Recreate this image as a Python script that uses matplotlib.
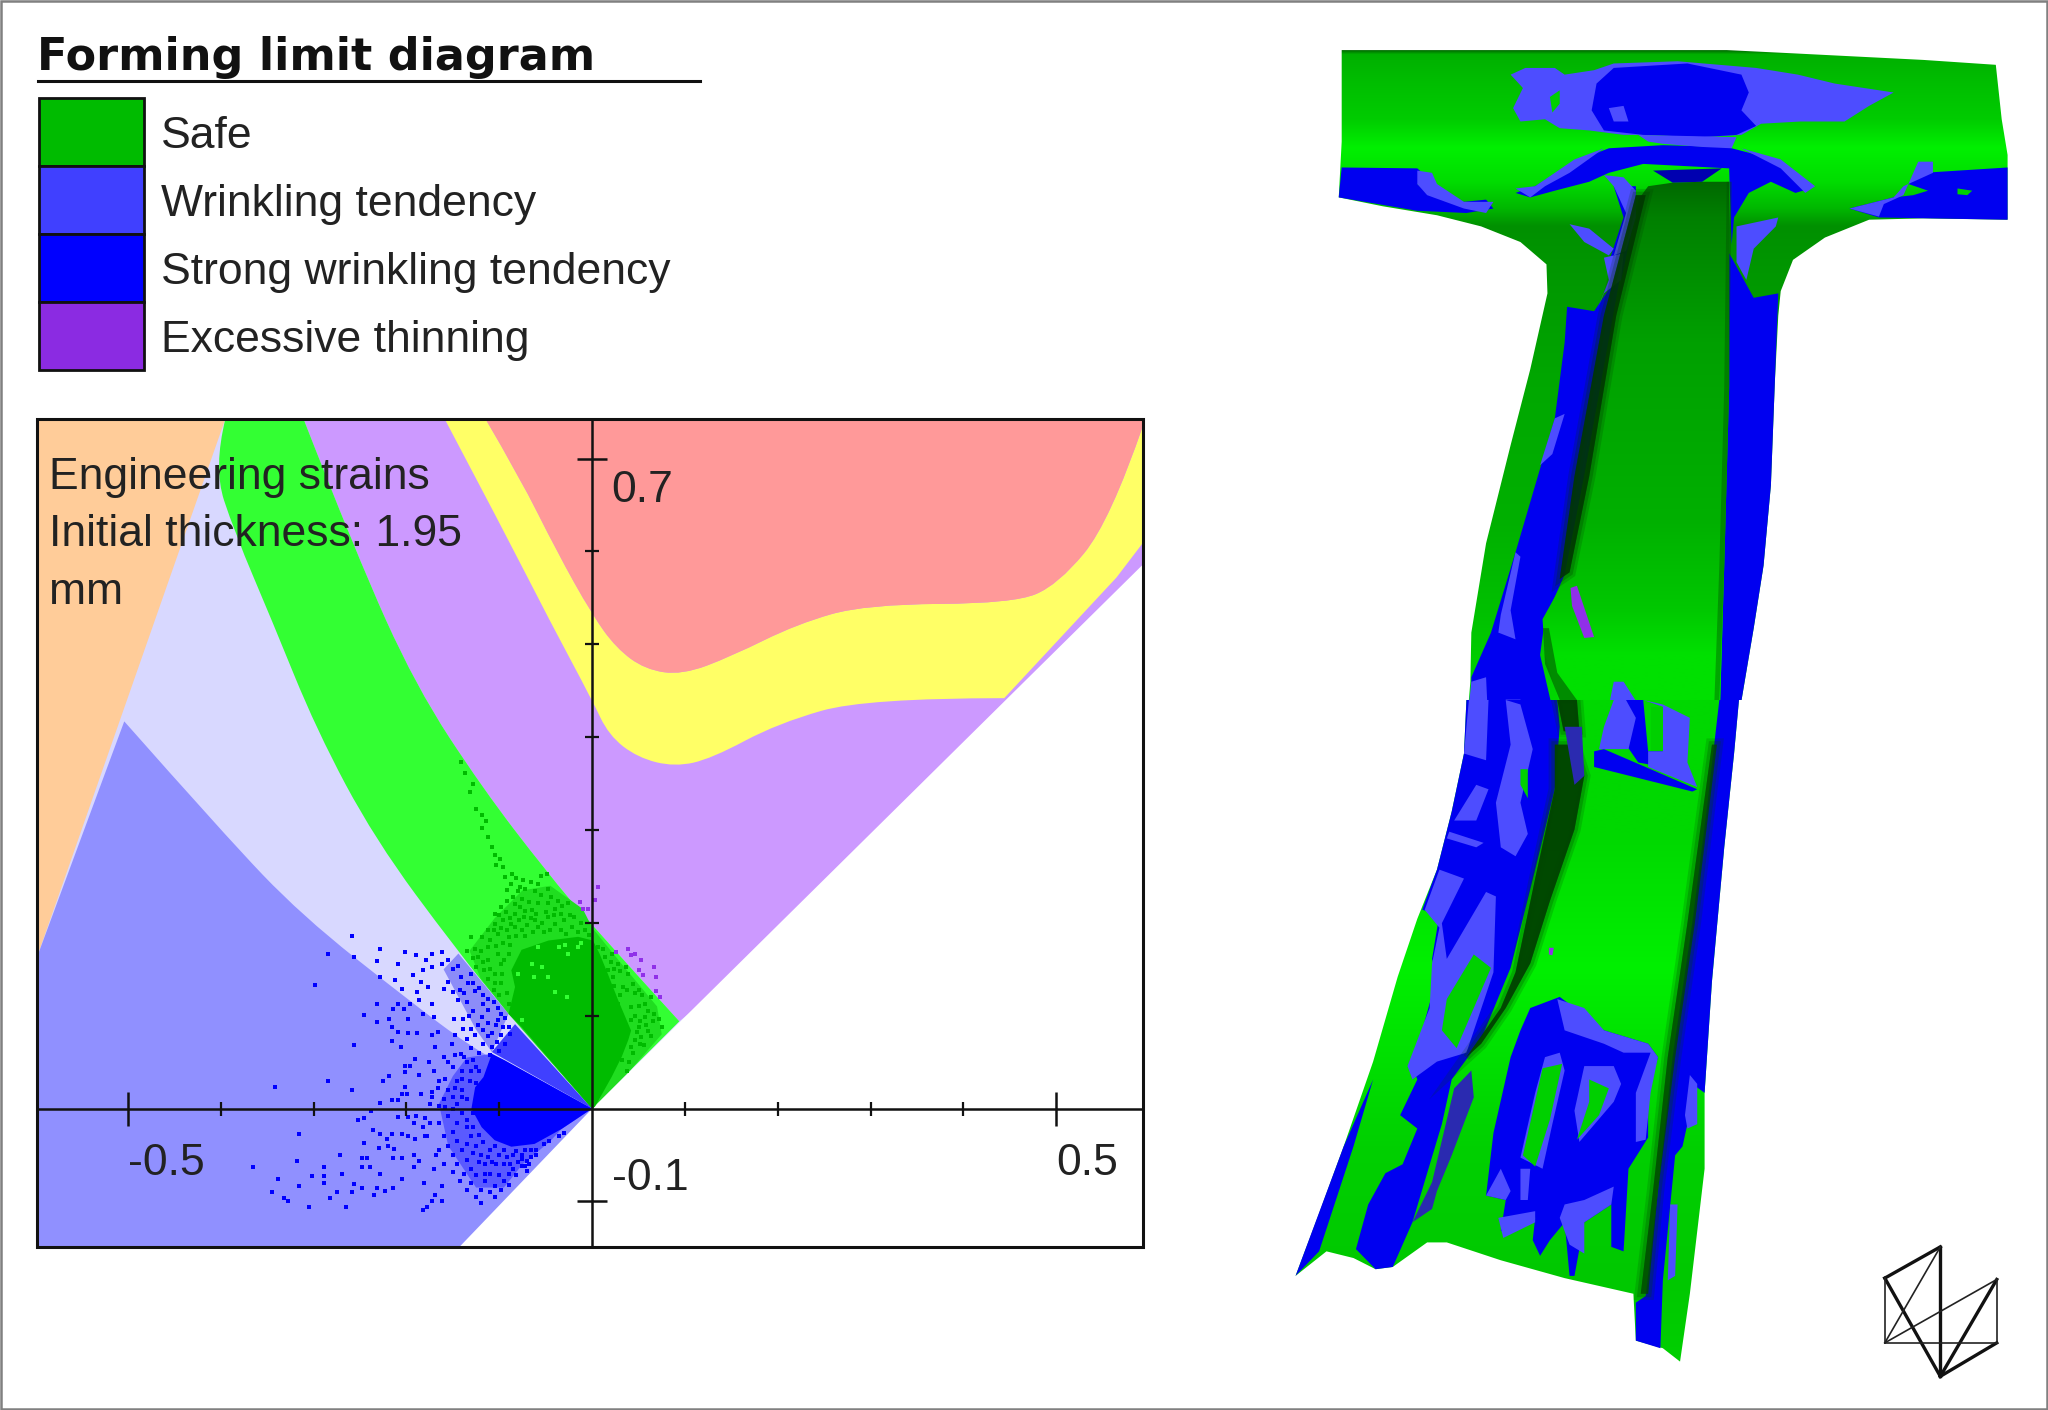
import numpy as np
import matplotlib
matplotlib.use("Agg")
import matplotlib.pyplot as plt
from matplotlib.patches import Polygon, Rectangle, PathPatch
from matplotlib.path import Path
from matplotlib.colors import to_rgb
from matplotlib.ticker import FixedLocator
from matplotlib.transforms import ScaledTranslation

plt.rcParams['font.family'] = ['Liberation Sans', 'DejaVu Sans']

# ---------- legend ----------
TITLE = "Forming limit diagram"
LEGEND_LABELS = ["Safe", "Wrinkling tendency", "Strong wrinkling tendency", "Excessive thinning"]
LEGEND_COLORS = ["#00BB00", "#4040FF", "#0000FF", "#8B2BE2"]
NOTE = ["Engineering strains", "Initial thickness: 1.95", "mm"]

# ---------- forming limit diagram zones (minor strain, major strain) ----------
ORANGE_EDGE = [(-0.598, 0.163), (-0.395, 0.743)]
WRINKLE_CURVE = [(-0.504, 0.417), (-0.397, 0.296), (-0.313, 0.208), (-0.198, 0.117),
                 (-0.130, 0.066), (-0.078, 0.038), (0, 0)]
GREEN_LEFT = [(-0.395, 0.743), (-0.408, 0.690), (-0.385, 0.620), (-0.345, 0.526), (-0.297, 0.408),
              (-0.234, 0.290), (-0.146, 0.171), (-0.090, 0.102), (0, 0)]
GREEN_RIGHT = [(-0.311, 0.743), (-0.254, 0.597), (-0.190, 0.455), (-0.118, 0.345),
               (-0.049, 0.255), (0, 0.197), (0.094, 0.094)]
YELLOW_LOW = [(-0.159, 0.743), (-0.094, 0.620), (-0.046, 0.526), (0, 0.440), (0.018, 0.402),
              (0.049, 0.378), (0.089, 0.368), (0.129, 0.377), (0.200, 0.415), (0.295, 0.442),
              (0.444, 0.442)]
YELLOW_UP = [(-0.115, 0.743), (-0.078, 0.680), (-0.038, 0.600), (0, 0.532), (0.026, 0.496),
             (0.057, 0.473), (0.097, 0.467), (0.150, 0.487), (0.221, 0.522), (0.295, 0.543),
             (0.454, 0.544), (0.502, 0.564), (0.558, 0.632), (0.594, 0.737)]
YELLOW_TIP = [(0.444, 0.442), (0.565, 0.572), (0.594, 0.61)]
DIAGONAL = [(0.5935, 0.586), (0, 0), (-0.143, -0.149)]
DENSE_BLUE = [(0, 0), (-0.094, 0.052), (-0.108, 0.059), (-0.117, 0.034), (-0.126, 0.023),
              (-0.130, 0), (-0.119, -0.020), (-0.105, -0.034), (-0.087, -0.041),
              (-0.062, -0.038), (-0.033, -0.022)]
MID_BLUE = [(0, 0), (-0.083, 0.091), (-0.108, 0.061)]
BLUE_FRINGE = [(-0.108, 0.059), (-0.135, 0.055), (-0.150, 0.035), (-0.165, 0.005), (-0.155, -0.040),
               (-0.125, -0.085), (-0.095, -0.085), (-0.075, -0.060), (-0.045, -0.035), (-0.033, -0.022), (0, 0)]
LAVENDER_FRINGE = [(-0.090, 0.102), (-0.144, 0.167), (-0.160, 0.150), (-0.125, 0.085), (-0.108, 0.061)]
DENSE_GREEN = [(0, 0), (-0.020, 0.023), (-0.076, 0.088), (-0.090, 0.102), (-0.083, 0.131),
               (-0.087, 0.149), (-0.076, 0.171), (-0.047, 0.181), (-0.015, 0.185), (0.001, 0.181),
               (0.008, 0.167), (0.017, 0.145), (0.028, 0.117), (0.042, 0.084), (0.039, 0.074),
               (0.032, 0.056), (0.021, 0.034), (0.003, 0.002)]
GREEN_FRINGE = [(0, 0), (-0.090, 0.102), (-0.120, 0.140), (-0.132, 0.170), (-0.105, 0.205), (-0.075, 0.235),
                (-0.045, 0.240), (-0.010, 0.215), (0, 0.195), (0.03, 0.158), (0.070, 0.110), (0.075, 0.080), (0.040, 0.040)]

BLUE_POINTS = [
 (-.259,.186),(-.285,.166),(-.229,.172),(-.256,.163),(-.202,.169),(-.232,.159),(-.209,.156),(-.229,.142),
 (-.212,.139),(-.299,.133),(-.205,.129),(-.232,.113),(-.246,.101),(-.232,.093),(-.256,.069),(-.285,.030),
 (-.342,.023),(-.259,.020),(-.225,.030),(-.219,.035),(-.229,.006),(-.238,-.003),(-.252,-.012),(-.246,-.010),
 (-.316,-.027),(-.236,-.023),(-.246,-.037),(-.230,-.042),(-.272,-.050),(-.318,-.056),(-.248,-.053),(-.242,-.053),
 (-.365,-.063),(-.289,-.063),(-.248,-.063),(-.239,-.063),(-.269,-.070),(-.302,-.073),(-.289,-.073),(-.338,-.076),
 (-.289,-.080),(-.256,-.081),(-.316,-.083),(-.248,-.086),(-.232,-.086),(-.223,-.089),(-.215,-.086),(-.345,-.090),
 (-.275,-.090),(-.259,-.090),(-.235,-.093),(-.332,-.096),(-.328,-.100),(-.282,-.096),(-.305,-.106),(-.265,-.106),
 (-.182,-.109),(-.178,-.106),(-.172,-.100),(-.162,-.100),(-.169,-.093),(-.162,-.083),(-.181,-.080),(-.205,-.076),
 (-.229,-.070),(-.192,-.063),(-.186,-.056),(-.205,-.053),(-.215,-.053),(-.192,-.050),(-.213,-.043),(-.220,-.040),
 (-.221,-.033),(-.216,-.027),(-.205,-.027),(-.198,-.030),(-.191,-.033),(-.178,-.030),(-.182,-.020),(-.229,-.027),
 (-.209,-.009),(-.198,-.009),(-.216,.009),(-.209,.009),(-.205,.016),(-.199,.016),(-.202,.023),(-.184,.016),
 (-.173,.018),(-.202,.039),(-.187,.036),(-.176,.050),(-.202,.046),(-.196,.046),(-.191,.053),(-.206,.066),
 (-.216,.073),(-.169,.066),(-.159,.056),(-.151,.070),(-.173,.079),(-.166,.083),(-.189,.081),(-.198,.081),
 (-.209,.083),(-.216,.088),(-.219,.097),(-.198,.097),(-.182,.102),(-.170,.099),(-.214,.107),(-.203,.107),
 (-.209,.113),(-.196,.113),(-.186,.117),(-.172,.113),(-.189,.126),(-.177,.131),(-.184,.136),(-.193,.144),
 (-.182,.149),(-.172,.153),(-.190,.165),(-.179,.160),(-.173,.166),(-.162,.169),(-.162,.156),(-.155,.136),
 (-.159,.129),(-.150,.126),(-.141,.142),(-.134,.135),(-.144,.154),(-.130,.145),(-.126,.127),(-.144,.117),
 (-.117,.113),(-.112,.106),(-.101,.108),(-.149,.096),(-.139,.096),(-.119,.099),(-.101,.095),(-.090,.088),
 (-.139,.086),(-.130,.086),(-.123,.090),(-.126,.079),(-.108,.081),(-.098,.079),(-.148,.079),(-.117,.070),
 (-.108,.066),(-.130,.065),(-.141,.059),
 (-.150,.045),(-.145,.030),(-.155,.020),(-.160,.010),(-.150,.012),(-.140,.040),(-.135,.050),(-.130,.040),
 (-.125,.045),(-.140,.020),(-.135,.010),(-.165,.030),(-.170,.040),(-.150,.000),(-.165,.003),(-.175,.005),
 (-.140,-.005),(-.155,-.008),(-.145,-.015),(-.135,-.020),(-.150,-.025),(-.160,-.030),(-.145,-.035),(-.130,-.030),
 (-.125,-.040),(-.140,-.045),(-.155,-.040),(-.165,-.045),(-.150,-.050),(-.135,-.055),(-.120,-.050),(-.110,-.045),
 (-.100,-.050),(-.115,-.060),(-.130,-.065),(-.145,-.060),(-.125,-.072),(-.110,-.070),(-.095,-.060),(-.085,-.050),
 (-.075,-.050),(-.080,-.058),(-.072,-.062),(-.085,-.065),(-.100,-.072),(-.115,-.078),(-.130,-.080),(-.120,-.088),
 (-.125,-.095),(-.110,-.090),(-.105,-.083),(-.120,-.102),(-.170,-.065),(-.160,-.060),(-.168,-.050),(-.175,-.015),
 (-.165,-.015),(-.180,-.010),(-.190,-.008),(-.192,-.015),(-.180,-.030),(-.070,-.056),(-.076,-.054),(-.066,-.052),
 (-.128,.135),(-.122,.130),(-.118,.122),(-.112,.118),(-.106,.115),(-.098,.102),(-.094,.098),(-.096,.088),
 (-.088,.080),(-.104,.090),(-.112,.092),(-.118,.085),(-.112,.078),(-.102,.072),(-.094,.070),(-.100,.062),
 (-.110,.058),(-.122,.060),(-.135,.075),(-.128,.105),(-.135,.115),(-.142,.128),(-.150,.150),(-.155,.160),
 (-.138,.125),(-.133,.100),(-.155,.050),(-.148,.058),(-.138,.056),(-.128,.052),(-.122,.040),(-.140,.032),
 (-.132,.030),(-.125,.028),(-.148,.022),(-.158,.032),(-.166,.022),(-.172,.012),(-.158,.002),(-.145,.005),
 (-.140,.012),(-.128,-.005),(-.135,-.012),(-.128,-.020),(-.122,-.028),(-.118,-.036),(-.105,-.040),(-.095,-.045),
 (-.135,-.038),(-.128,-.048),(-.112,-.052),(-.104,-.060),(-.092,-.052),(-.090,-.070),(-.082,-.072),(-.095,-.078),
 (-.108,-.058),(-.122,-.058),(-.138,-.070),(-.150,-.068),(-.142,-.078),(-.135,-.088),(-.115,-.070),(-.105,-.095),
 (-.098,-.088),(-.090,-.082),(-.075,-.062),(-.066,-.045),(-.060,-.045),(-.052,-.038),(-.046,-.035),(-.036,-.030),
 (-.030,-.026),(-.072,-.045),(-.068,-.060),(-.060,-.050),(-.082,-.046),(-.088,-.060),(-.070,-.067)]

GREEN_POINTS = [
 (-.141,.373),(-.137,.361),(-.128,.350),(-.132,.341),(-.125,.323),(-.119,.316),(-.114,.310),(-.119,.302),
 (-.112,.293),(-.108,.282),(-.105,.273),(-.099,.269),(-.103,.262),(-.096,.260),(-.094,.249),(-.087,.242),
 (-.092,.235),(-.078,.239),(-.085,.228),(-.092,.224),(-.055,.251),(-.049,.253),(-.058,.242),(-.047,.237),
 (-.078,.217),(-.098,.217),(-.105,.210),(-.058,.221),(-.065,.214),(-.047,.221),(-.037,.224),(-.026,.221),
 (-.083,.210),(-.073,.206),(-.096,.203),(-.105,.199),(-.087,.199),(-.062,.203),(-.047,.206),(-.033,.210),
 (-.019,.206),(-.112,.192),(-.119,.185),(-.130,.185),(-.126,.172),(-.112,.174),(-.101,.188),(-.090,.185),
 (-.076,.192),(-.058,.196),(-.040,.199),(-.022,.196),(-.008,.192),(-.123,.163),(-.112,.160),(-.101,.167),
 (-.090,.167),(-.116,.149),(-.105,.145),(-.098,.156),(-.098,.135),(-.105,.135),(-.092,.124),(-.089,.113),
 (.006,.174),(.014,.163),(.021,.167),(.028,.156),(.039,.145),(.023,.142),(.033,.131),(.046,.124),
 (.057,.113),(.064,.120),(.042,.109),(.057,.099),(.067,.102),(.075,.088),(.050,.088),(.046,.074),
 (.017,.149),(.010,.156),(.028,.113),(.042,.095),(.060,.084),(.053,.077),(.032,.052),
 (-.135,.170),(-.128,.162),(-.120,.170),(-.118,.158),(-.110,.150),(-.125,.152),(-.112,.140),(-.106,.128),
 (-.100,.122),(-.097,.145),(-.095,.160),(-.103,.175),(-.096,.178),(-.088,.176),(-.082,.186),(-.072,.186),
 (-.064,.190),(-.052,.190),(-.045,.192),(-.033,.192),(-.028,.188),(-.015,.190),(-.003,.187),(-.110,.182),
 (-.106,.192),(-.098,.195),(-.092,.192),(-.083,.196),(-.079,.203),(-.070,.198),(-.066,.205),(-.054,.200),
 (-.050,.212),(-.041,.208),(-.030,.203),(-.024,.208),(-.012,.200),(-.100,.208),(-.093,.212),(-.088,.205),
 (-.072,.213),(-.060,.210),(-.040,.215),(-.083,.220),(-.075,.226),(-.068,.222),(-.055,.230),(-.044,.228),
 (-.032,.218),(-.080,.234),(-.072,.236),(-.062,.234),(-.086,.253),(-.082,.248),(-.074,.246),(-.066,.244),
 (.004,.165),(.012,.172),(.020,.158),(.024,.150),(.030,.148),(.036,.152),(.012,.148),(.024,.132),
 (.030,.122),(.038,.128),(.044,.134),(.050,.128),(.054,.122),(.060,.105),(.050,.110),(.046,.100),
 (.066,.094),(.072,.096),(.052,.094),(.058,.090),(.064,.078),(.048,.082),(.042,.066),(.052,.070),
 (.056,.068),(.044,.060),(.038,.040),(.040,.050)]

PURPLE_POINTS = [
 (-.013,.222),(.006,.239),(.003,.225),(-.010,.215),(-.004,.215),(.026,.169),(.039,.172),(.046,.167),
 (.042,.165),(.053,.160),(.067,.153),(.050,.149),(.055,.144),(.069,.142),(.069,.127),(.073,.120)]

LIGHT_SPECKS = [
 (-.065,.156),(-.054,.152),(-.047,.142),(-.040,.126),(-.027,.120),(-.076,.095),(-.058,.174),(-.036,.174),
 (-.026,.167),(-.015,.174),(-.080,.145),(-.063,.142),(-.012,.178),(-.029,.176)]

XMIN, XMAX, YMIN, YMAX = -0.598, 0.5935, -0.149, 0.7426
X_MAJOR, Y_MAJOR = [-0.5, 0.5], [-0.1, 0.7]
X_MINOR = [-0.4, -0.3, -0.2, -0.1, 0.1, 0.2, 0.3, 0.4]
Y_MINOR = [0.1, 0.2, 0.3, 0.4, 0.5, 0.6]

# ---------- stamped part: outlines (image pixels of two crops) ----------
UPPER_OUTLINE = [(146,45),(930,45),(1060,52),(1330,67),(1478,78),(1490,200),(1502,280),(1502,425),(1330,422),
 (1220,425),(1130,465),(1065,515),(1040,585),(1035,640),(1028,790),(1020,1020),(1005,1200),(985,1340),(965,1470),
 (950,1568),(400,1568),(408,1460),(410,1350),(440,1150),(490,930),(530,760),(565,590),(563,525),(510,475),
 (430,440),(340,415),(230,395),(140,375),(146,250)]
UPPER_STOPS = [(45,'#006000'),(55,'#00B000'),(130,'#00C000'),(200,'#00CC00'),(265,'#00F000'),(340,'#00DD00'),
 (400,'#00B800'),(440,'#009000'),(560,'#009800'),(800,'#00A800'),(1100,'#00B000'),(1300,'#00C000'),(1501,'#00D800')]
STEM_OUTLINE = [(750,380),(700,640),(640,1000),(600,1230),(555,1320),(560,1400),(590,1510),(640,1568),(915,1568),
 (925,1200),(935,800),(935,340),(880,340),(820,342),(770,350)]
STEM_STOPS = [(340,'#006800'),(420,'#008000'),(700,'#00A000'),(1100,'#00B000'),(1300,'#00C800'),(1400,'#00E000'),(1501,'#00E000')]

UPPER_DARK = [
 [(665,120),(700,85),(850,75),(960,100),(975,140),(960,180),(990,215),(950,235),(880,240),(760,235),(680,225),(655,180)],
 [(146,308),(300,310),(330,340),(300,345),(320,365),(395,385),(440,380),(455,400),(400,410),(300,405),(140,375)],
 [(1502,308),(1330,320),(1300,345),(1340,360),(1310,370),(1270,375),(1180,400),(1240,420),(1502,425)],
 [(935,500),(985,600),(1035,590),(1028,790),(1020,1020),(1005,1200),(985,1340),(965,1470),(950,1568),(915,1568),(925,1200),(935,800)],
 [(500,365),(540,350),(620,295),(690,265),(800,258),(930,262),(1010,285),(1050,310),(1100,355),(1070,365),(1020,340),(975,365),
  (945,420),(940,480),(935,310),(760,300),(690,320),(650,340),(580,360),(530,375)],
 [(605,620),(660,630),(715,540),(640,1000),(600,1220),(560,1320),(550,1400),(585,1568),(410,1568),(410,1450),(450,1350),(500,1170),(540,1020),(580,870),(600,700)],
 [(700,350),(745,350),(745,500),(715,560),(690,520),(720,420)]]
UPPER_LIGHT = [
 [(490,100),(520,85),(580,85),(600,100),(660,90),(700,75),(830,70),(990,85),(1075,100),(1150,120),(1270,140),(1220,170),(1170,205),(1080,205),
  (1000,210),(960,235),(880,240),(800,235),(720,235),(650,225),(590,220),(560,200),(510,205),(495,175),(515,130)],
 [(300,315),(330,320),(340,345),(395,385),(455,385),(440,410),(395,400),(320,370),(300,345)],
 [(1320,295),(1350,295),(1350,320),(1290,350),(1270,375),(1180,400),(1240,418),(1250,390),(1290,370)],
 [(500,355),(540,350),(620,290),(680,265),(610,320),(560,350),(530,375)],
 [(960,265),(1040,290),(1110,350),(1090,365),(1040,310)],
 [(750,235),(950,240),(940,265),(880,262),(800,255),(770,250)],
 [(610,435),(650,445),(700,490),(690,505),(640,475)],
 [(680,325),(720,330),(745,360),(745,420),(725,495),(700,505),(725,410),(700,350)],
 [(950,440),(1035,420),(1030,440),(985,490),(970,560),(950,520)],
 [(680,510),(720,500),(715,560),(680,590),(665,630),(690,560)],
 [(580,870),(600,860),(575,950),(550,975)],
 [(500,1170),(510,1180),(490,1300),(500,1365),(465,1350),(470,1310)],
 [(410,1460),(440,1450),(445,1568),(400,1568)],[(480,1500),(510,1500),(525,1568),(480,1568)],
 [(680,1568),(700,1460),(720,1460),(755,1520),(760,1568)],[(800,1515),(850,1550),(860,1568),(800,1568)]]
UPPER_DEEP_SPOT = [[(780,315),(920,310),(880,340),(820,342)]]
UPPER_LIGHT_SPOT = [[(690,175),(720,170),(730,205),(700,205)]]
UPPER_HOLES = [[(570,150),(590,135),(590,165),(575,185)],[(1400,355),(1430,360),(1420,370),(1400,368)]]
UPPER_CHANNEL = [[(745,370),(765,370),(705,640),(650,1000),(610,1215),(590,1230),(620,1000),(680,640)]]
UPPER_CHANNEL_LOW = [[(556,1340),(568,1340),(585,1440),(625,1501),(590,1501),(560,1420)]]
UPPER_EDGE = [[(930,340),(940,340),(935,800),(925,1200),(915,1501),(905,1501),(915,1200),(925,800)]]
UPPER_PURPLE = [[(612,1250),(625,1245),(660,1360),(640,1362),(615,1290)]]

LOWER_OUTLINE = [(400,0),(395,120),(370,250),(340,380),(300,490),(260,620),(210,810),(150,1000),(100,1150),(52,1290),(115,1235),
 (170,1250),(215,1275),(250,1270),(320,1215),(360,1215),(470,1255),(600,1295),(740,1330),(745,1435),(800,1452),(835,1482),
 (855,1330),(885,1050),(885,880),(900,630),(925,330),(945,120),(955,0)]
LOWER_STOPS = [(0,'#00D800'),(300,'#00D800'),(600,'#00F000'),(1000,'#00D000'),(1300,'#00C800'),(1500,'#00D000')]
LOWER_DARK = [
 [(400,0),(395,120),(370,250),(340,380),(310,470),(345,480),(330,580),(340,620),(290,820),(300,850),(265,930),(300,960),(270,1040),(235,1060),
  (200,1130),(175,1230),(215,1275),(250,1270),(290,1170),(350,950),(370,850),(430,760),(490,600),(540,380),(580,200),(590,60),(585,0)],
 [(210,850),(150,1000),(52,1290),(100,1235),(170,1000)],
 [(915,0),(955,0),(945,120),(925,330),(900,630),(885,880),(860,860),(850,950),(840,1000),(825,1020),(800,1300),(795,1452),(745,1435),(745,1350),(765,1335),(790,1100),(820,800),(860,500),(890,240)],
 [(530,690),(590,665),(680,740),(770,770),(790,800),(770,880),(770,980),(730,1050),(720,1235),(695,1225),(695,1130),(640,1170),(620,1290),(610,1290),(600,1170),(570,1210),(550,1245),(535,1210),(540,1160),(470,1190),(480,1120),(440,1110),(455,970),(490,800),(510,740)],
 [(660,115),(680,110),(870,200),(860,205),(660,150)],
 [(725,0),(760,0),(770,115),(800,115),(850,160),(750,140),(725,100)]]
LOWER_LIGHT = [
 [(405,0),(445,0),(440,135),(395,120)],
 [(480,0),(510,10),(535,110),(510,230),(525,300),(500,350),(470,330),(460,230),(490,100)],
 [(420,190),(445,200),(420,270),(375,270)],[(365,295),(435,320),(420,330),(360,310)],
 [(345,380),(395,400),(350,500),(360,580),(440,430),(460,440),(455,610),(400,790),(340,810),(290,850),(280,820),(325,690),(330,590),(345,510),(315,470)],
 [(680,60),(700,0),(725,0),(745,40),(730,110),(670,110)],
 [(760,0),(800,10),(855,40),(850,140),(870,195),(770,150),(770,115),(800,115),(800,15)],
 [(585,670),(640,690),(680,740),(770,770),(790,800),(775,880),(765,985),(745,990),(745,880),(775,790),(720,790),(680,770),(600,740)],
 [(560,800),(590,790),(600,830),(575,950),(555,1050),(510,1025),(540,880)],
 [(640,820),(700,820),(715,860),(700,900),(630,990),(620,920)],
 [(465,1160),(540,1145),(540,1170),(475,1205)],
 [(600,1130),(640,1120),(700,1090),(695,1130),(640,1170),(640,1240),(610,1220),(590,1160)],
 [(470,1050),(490,1100),(480,1120),(440,1110)],[(510,1050),(530,1050),(525,1120),(510,1120)],
 [(855,840),(870,860),(870,950),(850,960),(845,930)],[(815,1130),(830,1130),(825,1290),(810,1300)]]
LOWER_HOLES = [
 [(415,570),(450,600),(380,780),(350,740),(360,670)],[(510,155),(525,155),(525,220),(510,190)],
 [(555,825),(595,815),(570,940),(540,1045),(515,1020)],[(650,850),(690,870),(670,930),(625,985),(650,900)],
 [(775,15),(800,15),(800,115),(775,115)]]
LOWER_CHANNEL = [
 [(580,100),(620,100),(640,170),(620,290),(570,450),(530,590),(480,690),(430,770),(400,800),(470,690),(500,610),(540,400),(580,200)],
 [(585,0),(625,0),(630,70),(598,70)]]
LOWER_STRIP = [[(375,870),(410,830),(415,890),(370,1020),(340,1100),(330,1140),(290,1170),(330,1080)],
               [(600,60),(635,60),(640,170),(620,190),(606,100)]]
LOWER_EDGE = [[(900,100),(910,100),(865,500),(825,800),(790,1100),(770,1330),(755,1330),(780,1100),(810,800),(850,500)]]
LOWER_PURPLE = [[(568,555),(578,555),(575,572),(568,570)]]

ICON_THICK = [((1252,1295),(1365,1225)),((1365,1225),(1365,1515)),((1252,1295),(1365,1515)),
              ((1365,1515),(1480,1440)),((1365,1515),(1480,1298))]
ICON_THIN = [((1252,1295),(1252,1440)),((1252,1440),(1480,1440)),((1480,1440),(1480,1298)),
             ((1252,1440),(1365,1225)),((1252,1440),(1480,1298))]

CLR_DARK, CLR_LIGHT, CLR_HOLE, CLR_PURPLE = '#0000F0', '#4D4DFF', '#00D000', '#9030E8'

W, H = 2048, 1410
fig = plt.figure(figsize=(W/100, H/100), dpi=100, facecolor='white')

def rect(x, y, w, h):
    return [x/W, 1-(y+h)/H, w/W, h/H]

# page: coordinates in original image pixels
page = fig.add_axes([0, 0, 1, 1])
page.set_xlim(0, W); page.set_ylim(H, 0); page.axis('off')
page.add_patch(Rectangle((1, 1), W-2.5, H-2.5, fill=False, ec='#808080', lw=1.8))
page.text(37, 70, TITLE, fontsize=32, fontweight='bold', family=['DejaVu Sans'], va='baseline', color='#111111')
page.plot([38, 700], [81, 81], color='#111111', lw=2.2)
for i, (lab, c) in enumerate(zip(LEGEND_LABELS, LEGEND_COLORS)):
    y0 = 98 + i*68
    page.add_patch(Rectangle((39, y0), 105, 68, fc=c, ec='#111111', lw=2))
    page.text(161, y0+34, lab, fontsize=32, va='center_baseline', color='#222222')

# forming limit diagram
ax = fig.add_axes(rect(37, 419, 1106, 828))
ax.set_xlim(XMIN, XMAX); ax.set_ylim(YMIN, YMAX)
ax.set_facecolor('#FFCC99')

def region(*edges, color, zorder=1):
    """Filled zone: each edge is (points, smooth)."""
    v, c = [], []
    for pts, smooth in edges:
        pts = [tuple(p) for p in pts]
        v.append(pts[0]); c.append(Path.LINETO if v[:-1] else Path.MOVETO)
        if smooth and len(pts) > 2:
            for a, b in zip(pts[1:-2], pts[2:-1]):
                v += [a, ((a[0]+b[0])/2, (a[1]+b[1])/2)]; c += [Path.CURVE3, Path.CURVE3]
            v += [pts[-2], pts[-1]]; c += [Path.CURVE3, Path.CURVE3]
        else:
            for p in pts[1:]:
                v.append(p); c.append(Path.LINETO)
    v.append(v[0]); c.append(Path.CLOSEPOLY)
    ax.add_patch(PathPatch(Path(v, c), fc=color, ec='none', zorder=zorder))

region((ORANGE_EDGE + [(XMAX, YMAX), (XMAX, YMIN), (XMIN, YMIN)], False), color='#D8D8FF', zorder=1)
region(([ORANGE_EDGE[0]], False), (WRINKLE_CURVE, True), ([(0, YMIN), (XMIN, YMIN)], False), color='#9090FF', zorder=2)
region((GREEN_RIGHT, True), ([(XMAX, 0.5), (XMAX, YMAX)], False), color='#CC99FF', zorder=3)
region((GREEN_LEFT, True), (GREEN_RIGHT[::-1], True), color='#33FF33', zorder=4)
region((YELLOW_LOW, True), (YELLOW_TIP, False), (YELLOW_UP[::-1], True), color='#FFFF66', zorder=5)
region((YELLOW_UP, True), ([(XMAX, YMAX)], False), color='#FF9999', zorder=6)
region((DIAGONAL, False), ([(-0.143, YMIN - .01), (XMAX + .01, YMIN - .01), (XMAX + .01, 0.586)], False), color='white', zorder=7)
region((LAVENDER_FRINGE, False), color='#8C8CF8', zorder=7.5)
region((BLUE_FRINGE, False), color='#5A5AFF', zorder=7.6)
region((GREEN_FRINGE, False), color='#20DD20', zorder=7.7)
region((MID_BLUE, False), color='#4040FF', zorder=8)
region((DENSE_BLUE, False), color='#0000FF', zorder=9)
region((DENSE_GREEN, False), color='#00BB00', zorder=9)

def dots(pts, color, zorder=10, ms=2.6):
    a = np.array(pts)
    ax.plot(a[:, 0], a[:, 1], 's', ms=ms, mew=0, color=color, zorder=zorder)

dots(BLUE_POINTS, '#0000FF')
dots(GREEN_POINTS, '#00BB00')
dots(PURPLE_POINTS, '#9030E8')
dots(LIGHT_SPECKS, '#33FF33')

for s in ('top', 'right'):
    ax.spines[s].set_visible(False)
for s in ('left', 'bottom'):
    ax.spines[s].set_position('zero')
    ax.spines[s].set_linewidth(1.8)
    ax.spines[s].set_color('#111111')
    ax.spines[s].set_zorder(20)
ax.xaxis.set_major_locator(FixedLocator(X_MAJOR))
ax.yaxis.set_major_locator(FixedLocator(Y_MAJOR))
ax.xaxis.set_minor_locator(FixedLocator(X_MINOR))
ax.yaxis.set_minor_locator(FixedLocator(Y_MINOR))
ax.set_xticklabels(['-0.5', '0.5'])
ax.set_yticklabels(['-0.1', '0.7'])
ax.xaxis.set_zorder(20); ax.yaxis.set_zorder(20)
ax.tick_params(which='major', direction='inout', width=1.8, color='#111111', labelsize=32, labelcolor='#222222')
ax.tick_params(which='minor', direction='inout', length=10, width=1.6, color='#111111')
ax.tick_params(axis='x', which='major', length=25, pad=12)
for t in ax.get_xticklabels():
    t.set_ha('left')
ax.tick_params(axis='y', which='major', length=22, pad=-25)
for t, dy in zip(ax.get_yticklabels(), (0.27, -0.27)):
    t.set_ha('left')
    t.set_transform(t.get_transform() + ScaledTranslation(0, dy, fig.dpi_scale_trans))
for i, line in enumerate(NOTE):
    ax.text(12/1106, 1-(54+i*57.5)/828, line, transform=ax.transAxes, fontsize=32, va='center_baseline', color='#222222', zorder=21)
ax.add_patch(Rectangle((0, 0), 1, 1, transform=ax.transAxes, fill=False, ec='#111111', lw=2.2, zorder=22, clip_on=False))

# stamped part
def shaded(a, poly, stops, ymax, zorder=1):
    ys = np.array([s[0] for s in stops], float)
    cols = np.array([to_rgb(s[1]) for s in stops])
    grid = np.linspace(0, ymax, 512)
    img = np.stack([np.interp(grid, ys, cols[:, k]) for k in range(3)], axis=-1)[:, None, :]
    im = a.imshow(img, extent=(0, 1568, ymax, 0), aspect='auto', zorder=zorder, interpolation='bilinear')
    patch = Polygon(poly, closed=True, transform=a.transData, fc='none', ec='none')
    a.add_patch(patch)
    im.set_clip_path(patch)

def polys(a, items, color, zorder, alpha=1.0, halo=False):
    for p in items:
        if halo:
            for lw, al in ((9, .18), (5, .25)):
                a.add_patch(Polygon(p, closed=True, fc=color, ec=color, lw=lw, alpha=al, zorder=zorder))
        a.add_patch(Polygon(p, closed=True, fc=color, ec='none', alpha=alpha, zorder=zorder))

up = fig.add_axes(rect(1270, 30, 770, 670))
low = fig.add_axes(rect(1270, 700, 770, 700))
UP_Y, LOW_Y = 1501, 1568
for a, ym in ((up, UP_Y), (low, LOW_Y)):
    a.set_xlim(0, 1568); a.set_ylim(ym, 0); a.axis('off'); a.patch.set_alpha(0)

shaded(up, UPPER_OUTLINE, UPPER_STOPS, UP_Y, 1)
polys(up, UPPER_LIGHT[:1], CLR_LIGHT, 2)
polys(up, UPPER_DARK, CLR_DARK, 3)
shaded(up, STEM_OUTLINE, STEM_STOPS, UP_Y, 4)
polys(up, UPPER_LIGHT[1:], CLR_LIGHT, 5)
polys(up, UPPER_LIGHT_SPOT, CLR_LIGHT, 5)
polys(up, UPPER_DEEP_SPOT, '#0000B0', 6)
polys(up, UPPER_HOLES, CLR_HOLE, 6)
polys(up, UPPER_CHANNEL, '#003800', 7, 0.85, halo=True)
polys(up, UPPER_CHANNEL_LOW, '#005500', 7, 0.6)
polys(up, UPPER_EDGE, '#005000', 7, 0.4)
polys(up, UPPER_PURPLE, CLR_PURPLE, 8)

shaded(low, LOWER_OUTLINE, LOWER_STOPS, LOW_Y, 1)
polys(low, LOWER_DARK, CLR_DARK, 2)
polys(low, LOWER_LIGHT, CLR_LIGHT, 3)
polys(low, LOWER_HOLES, CLR_HOLE, 4)
polys(low, LOWER_CHANNEL, '#004400', 5, 0.95, halo=True)
polys(low, LOWER_STRIP, '#2A2AB0', 5)
polys(low, LOWER_EDGE, '#004800', 5, 0.7, halo=True)
polys(low, LOWER_PURPLE, CLR_PURPLE, 6)
for (p, q) in ICON_THICK:
    low.plot([p[0], q[0]], [p[1], q[1]], color='#111111', lw=2.4, zorder=8)
for (p, q) in ICON_THIN:
    low.plot([p[0], q[0]], [p[1], q[1]], color='#222222', lw=1.2, zorder=8)

fig.savefig('out.png', dpi=100)
